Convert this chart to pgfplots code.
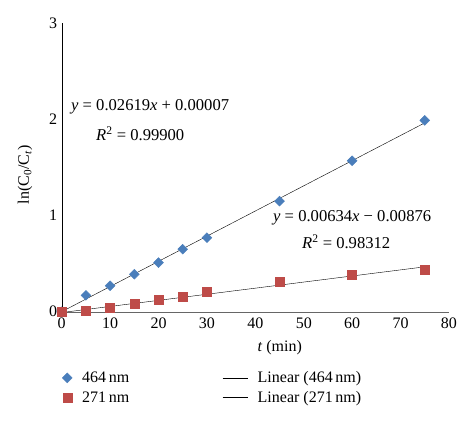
\documentclass[border=0pt]{standalone}
\usepackage{fontspec}
\setmainfont{Liberation Serif}
\usepackage{pgfplots}
\pgfplotsset{compat=1.18}
\definecolor{serA}{HTML}{4A7EBB}
\definecolor{serB}{HTML}{BE4B48}
\pgfplotsset{fitline/.style={black, thin,
  legend image code/.code={\draw[##1] (0pt,0pt) -- (25pt,0pt);}}}
\newcommand{\chartfont}{\fontsize{16}{19}\selectfont}

% absorbance decay at the two wavelengths
\pgfplotstableread{
t    lnA
0    0.00
5    0.17
10   0.27
15   0.39
20   0.51
25   0.65
30   0.77
45   1.15
60   1.57
75   1.99
}\seriesA
\pgfplotstableread{
t    lnB
0    0.00
5    0.01
10   0.04
15   0.08
20   0.12
25   0.16
30   0.21
45   0.31
60   0.38
75   0.44
}\seriesB

\begin{document}
\begin{tikzpicture}[x=1pt,y=1pt,font=\chartfont]
\path[use as bounding box] (0,0) rectangle (474,426);
\begin{axis}[
  at={(61.7pt,114.3pt)}, anchor=south west,
  scale only axis, width=387.3pt, height=288.4pt,
  xmin=0, xmax=80, ymin=0, ymax=3,
  axis lines=left, axis line style={-},
  x axis line style={draw=black!60},
  y axis line style={draw=black},
  xtick={0,10,...,80}, ytick={0,1,2,3},
  major tick length=0pt,
  /pgf/number format/assume math mode=true,
  tick label style={font=\chartfont},
  xticklabel style={yshift=-3pt},
  yticklabel style={xshift=-1pt},
  clip=false,
  xlabel={\textit{t} (min)},
  xlabel style={at={(axis description cs:0.563,-0.126)}, anchor=center},
  ylabel={ln(C\textsubscript{0}/C\textsubscript{\textit{t}})},
  ylabel style={at={(axis description cs:-0.095,0.475)}, anchor=center},
  legend columns=2,
  legend style={at={(axis description cs:0.001,-0.2)}, anchor=north west,
    draw=none, fill=none, inner sep=0pt, row sep=3pt,
    font=\chartfont,
    /tikz/every odd column/.append style={column sep=8pt},
    /tikz/every even column/.append style={column sep=91pt}},
]
\addplot[only marks, mark=square*, mark size=3.5pt, mark options={rotate=45, draw=serA, fill=serA}]
  table[x=t, y=lnA] {\seriesA};
\addlegendentry{464\,nm}
\addplot[fitline] coordinates {(0,0.00007) (75,1.96432)};
\addlegendentry{Linear (464\,nm)}
\addplot[only marks, mark=square*, mark size=4.5pt, mark options={draw=serB, fill=serB}]
  table[x=t, y=lnB] {\seriesB};
\addlegendentry{271\,nm}
\addplot[fitline] coordinates {(0,-0.00876) (75,0.46674)};
\addlegendentry{Linear (271\,nm)}

% fitted equations
\begin{scope}[every node/.style={anchor=west, inner sep=0pt, font=\fontsize{16.6}{19}\selectfont}]
\node at (axis cs:1.92,2.13) {\textit{y} = 0.02619\textit{x} + 0.00007};
\node at (axis cs:7.09,1.85) {\textit{R}\textsuperscript{2} = 0.99900};
\node at (axis cs:43.65,0.975) {\textit{y} = 0.00634\textit{x} − 0.00876};
\node at (axis cs:49.63,0.725) {\textit{R}\textsuperscript{2} = 0.98312};
\end{scope}
\end{axis}
\end{tikzpicture}
\end{document}
